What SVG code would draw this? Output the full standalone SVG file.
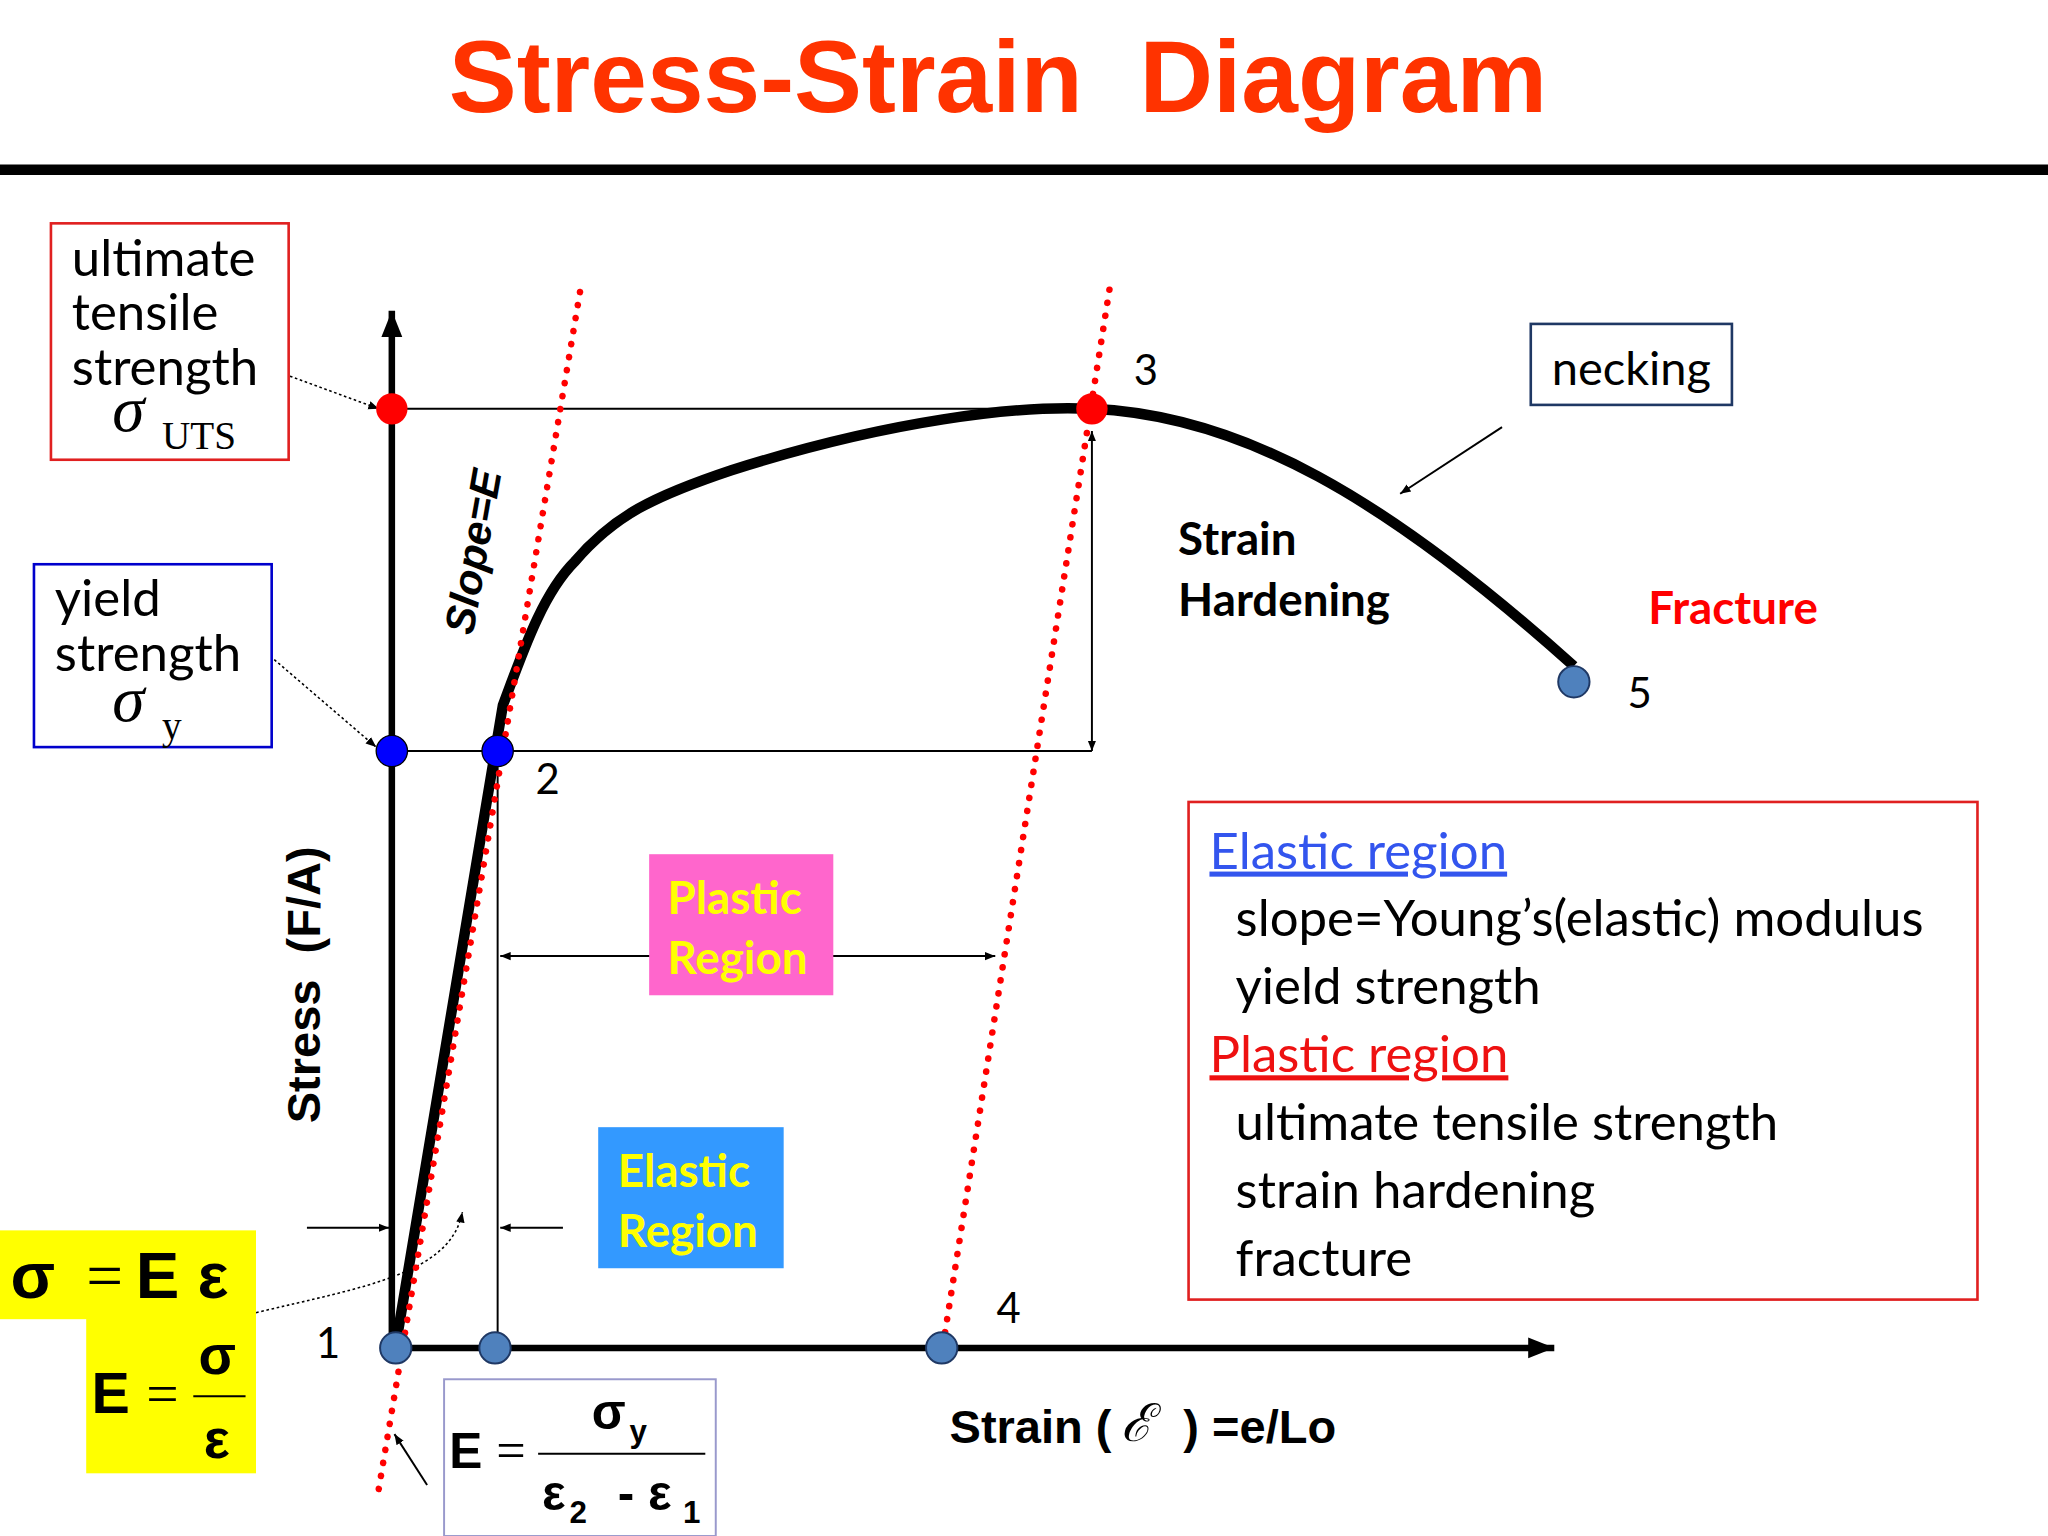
<svg xmlns="http://www.w3.org/2000/svg" width="2048" height="1536" viewBox="0 0 2048 1536">
<defs>
<style>
.lt{font-family:Lato,"Open Sans",sans-serif;fill:#000}
.ar{font-family:"Liberation Sans",Arial,sans-serif;font-weight:bold}
.sf{font-family:"Liberation Serif","Times New Roman",serif}
.thin{stroke:#000;stroke-width:1.5;fill:none}
.dot{stroke:#ff0000;stroke-width:5;stroke-dasharray:0.1 10;stroke-linecap:round;fill:none}
</style>
<marker id="ah" viewBox="0 0 10 10" refX="10" refY="5" markerWidth="8" markerHeight="8" orient="auto-start-reverse" markerUnits="userSpaceOnUse"><path d="M0,1 L10,5 L0,9 z" fill="#000"/></marker>
<marker id="ahb" viewBox="0 0 10 10" refX="10" refY="5" markerWidth="20" markerHeight="20" orient="auto" markerUnits="userSpaceOnUse"><path d="M0,1 L10,5 L0,9 z" fill="#000"/></marker>
</defs>
<rect width="2048" height="1536" fill="#fff"/>
<g transform="scale(1.306122)">
<text x="764" y="86" text-anchor="middle" class="ar" font-size="78" fill="#ff3300" xml:space="preserve">Stress-Strain  Diagram</text>
<line x1="0" y1="130" x2="1568" y2="130" stroke="#000" stroke-width="8"/>
<g id="connectors">
<line x1="300" y1="1032" x2="300" y2="238" stroke="#000" stroke-width="5" marker-end="url(#ahb)"/>
<line x1="300" y1="1032" x2="1190" y2="1032" stroke="#000" stroke-width="5" marker-end="url(#ahb)"/>
<line class="thin" x1="300" y1="313" x2="836" y2="313"/>
<line class="thin" x1="300" y1="575" x2="836" y2="575"/>
<line class="thin" x1="381" y1="575" x2="381" y2="1032"/>
<line class="thin" x1="836" y1="330" x2="836" y2="575" marker-start="url(#ah)" marker-end="url(#ah)"/>
<line class="thin" x1="383" y1="732" x2="762" y2="732" marker-start="url(#ah)" marker-end="url(#ah)"/>
<line class="thin" x1="235" y1="940" x2="298" y2="940" marker-end="url(#ah)"/>
<line class="thin" x1="431" y1="940" x2="383" y2="940" marker-end="url(#ah)"/>
<path d="M196,1005 C280,985 345,975 354,928" fill="none" stroke="#000" stroke-width="1.2" stroke-dasharray="2 2" marker-end="url(#ah)"/>
<path d="M222,288 L290,313" fill="none" stroke="#000" stroke-width="1.2" stroke-dasharray="2 2" marker-end="url(#ah)"/>
<path d="M210,505 L288,572" fill="none" stroke="#000" stroke-width="1.2" stroke-dasharray="2 2" marker-end="url(#ah)"/>
<line class="thin" x1="327" y1="1137" x2="302" y2="1098" marker-end="url(#ah)"/>
<line class="thin" x1="1150" y1="327" x2="1072" y2="378" marker-end="url(#ah)"/>
<path d="M303,1030 L385,540 C400,500 415,455 440,430 C470,395 500,380 560,360 C680,322 780,310 836,313 C950,318 1060,380 1205,510" fill="none" stroke="#000" stroke-width="8" stroke-linejoin="round"/>
<line class="dot" x1="290" y1="1140" x2="445" y2="218"/>
<line class="dot" x1="722" y1="1030" x2="850" y2="218"/>
</g>
<g id="points">
<circle cx="300" cy="313" r="12" fill="#ff0000"/>
<circle cx="836" cy="313" r="12" fill="#ff0000"/>
<circle cx="300" cy="575" r="12" fill="#0000ff" stroke="#000" stroke-width="1"/>
<circle cx="381" cy="575" r="12" fill="#0000ff" stroke="#000" stroke-width="1"/>
<circle cx="303" cy="1032" r="12" fill="#4f81bd" stroke="#1f3864" stroke-width="1.5"/>
<circle cx="379" cy="1032" r="12" fill="#4f81bd" stroke="#1f3864" stroke-width="1.5"/>
<circle cx="721" cy="1032" r="12" fill="#4f81bd" stroke="#1f3864" stroke-width="1.5"/>
<circle cx="1205" cy="522" r="12" fill="#4f81bd" stroke="#1f3864" stroke-width="1.5"/>
<text class="lt" x="242" y="1040" font-size="32">1</text>
<text class="lt" x="410" y="608" font-size="32">2</text>
<text class="lt" x="868" y="295" font-size="32">3</text>
<text class="lt" x="763" y="1013" font-size="32">4</text>
<text class="lt" x="1246" y="542" font-size="32">5</text>
</g>
<g id="uts">
<rect x="39" y="171" width="182" height="181" fill="none" stroke="#e02020" stroke-width="2"/>
<text class="lt" x="55" y="211" font-size="39">ultimate</text>
<text class="lt" x="55" y="253" font-size="39">tensile</text>
<text class="lt" x="55" y="295" font-size="39">strength</text>
<text class="sf" x="86" y="330" font-size="50" font-style="italic">σ</text>
<text class="sf" x="124" y="344" font-size="30">UTS</text>
</g>
<g id="yield">
<rect x="26" y="432" width="182" height="140" fill="none" stroke="#0000cc" stroke-width="2"/>
<text class="lt" x="42" y="472" font-size="39">yield</text>
<text class="lt" x="42" y="514" font-size="39">strength</text>
<text class="sf" x="86" y="552" font-size="50" font-style="italic">σ</text>
<text class="sf" x="124" y="566" font-size="30">y</text>
</g>
<text class="ar" font-size="32" font-style="italic" transform="translate(362,487) rotate(-80)">Slope=E</text>
<text class="ar" font-size="36" transform="translate(245,860) rotate(-90)" xml:space="preserve">Stress  (F/A)</text>
<g id="plastic">
<rect x="497" y="654" width="141" height="108" fill="#ff66cc"/>
<text class="lt" x="511" y="700" font-size="35" font-weight="bold" style="fill:#ffff00">Plastic</text>
<text class="lt" x="511" y="746" font-size="35" font-weight="bold" style="fill:#ffff00">Region</text>
</g>
<g id="elastic">
<rect x="458" y="863" width="142" height="108" fill="#3399ff"/>
<text class="lt" x="473" y="909" font-size="35" font-weight="bold" style="fill:#ffff00">Elastic</text>
<text class="lt" x="473" y="955" font-size="35" font-weight="bold" style="fill:#ffff00">Region</text>
</g>
<g id="formula1">
<rect x="0" y="942" width="196" height="68" fill="#ffff00"/>
<rect x="66" y="1008" width="130" height="120" fill="#ffff00"/>
<text class="ar" x="8" y="994" font-size="50">σ</text>
<text class="sf" x="66" y="994" font-size="50">=</text>
<text class="ar" x="104" y="994" font-size="50">E ε</text>
<text class="ar" x="70" y="1082" font-size="44">E</text>
<text class="sf" x="112" y="1082" font-size="44">=</text>
<text class="ar" x="152" y="1052" font-size="42">σ</text>
<line x1="148" y1="1069" x2="188" y2="1069" stroke="#000" stroke-width="1.5"/>
<text class="ar" x="156" y="1116" font-size="42">ε</text>
</g>
<g id="formula2">
<rect x="340" y="1056" width="208" height="120" fill="none" stroke="#9999cc" stroke-width="1.5"/>
<text class="ar" x="344" y="1124" font-size="38">E</text>
<text class="sf" x="380" y="1124" font-size="40">=</text>
<text class="ar" x="453" y="1094" font-size="38">σ</text>
<text class="ar" x="482" y="1104" font-size="24">y</text>
<line x1="412" y1="1113" x2="540" y2="1113" stroke="#000" stroke-width="1.5"/>
<text class="ar" x="415" y="1156" font-size="38">ε</text>
<text class="ar" x="436" y="1166" font-size="24">2</text>
<text class="ar" x="473" y="1156" font-size="38">- ε</text>
<text class="ar" x="523" y="1166" font-size="24">1</text>
</g>
<text class="ar" x="727" y="1105" font-size="36">Strain (</text>
<text class="sf" x="858" y="1103" font-size="40" font-style="italic">ℰ</text>
<text class="ar" x="906" y="1105" font-size="36">) =e/Lo</text>
<text class="lt" x="902" y="425" font-size="35" font-weight="bold">Strain</text>
<text class="lt" x="902" y="472" font-size="35" font-weight="bold">Hardening</text>
<g id="necking">
<rect x="1172" y="248" width="154" height="62" fill="none" stroke="#1f3864" stroke-width="2"/>
<text class="lt" x="1188" y="295" font-size="36">necking</text>
</g>
<text class="lt" x="1262" y="478" font-size="35" font-weight="bold" style="fill:#ff0000">Fracture</text>
<g id="legend">
<rect x="910" y="614" width="604" height="381" fill="none" stroke="#e02020" stroke-width="2"/>
<text class="lt" x="926" y="665" font-size="39" text-decoration="underline" style="fill:#3355ee">Elastic region</text>
<text class="lt" x="946" y="717" font-size="39">slope=Young’s(elastic) modulus</text>
<text class="lt" x="946" y="769" font-size="39">yield strength</text>
<text class="lt" x="926" y="821" font-size="39" text-decoration="underline" style="fill:#ee1111">Plastic region</text>
<text class="lt" x="946" y="873" font-size="39">ultimate tensile strength</text>
<text class="lt" x="946" y="925" font-size="39">strain hardening</text>
<text class="lt" x="946" y="977" font-size="39">fracture</text>
</g>
</g>
</svg>
